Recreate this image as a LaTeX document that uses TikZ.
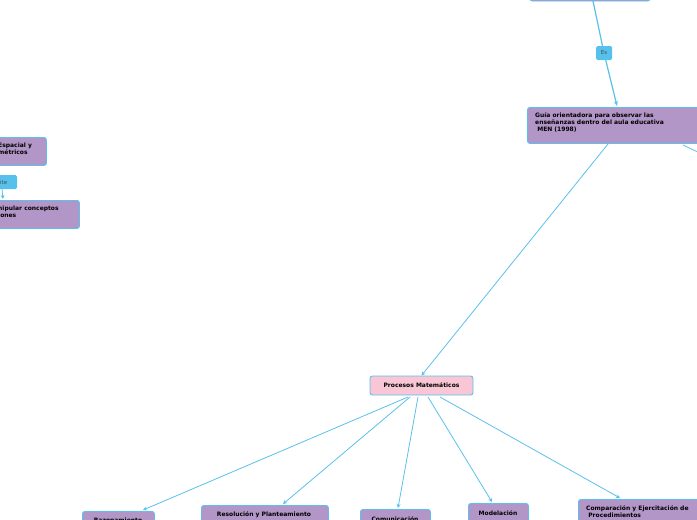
\documentclass[tikz,border=0pt]{standalone}
\usepackage{fontspec}
\setmainfont{DejaVu Sans}
\usetikzlibrary{arrows.meta}
\definecolor{box}{HTML}{B296C7}
\definecolor{edge}{HTML}{5BC0EB}
\definecolor{pinkb}{HTML}{F8C6D4}
\definecolor{lab}{HTML}{56C1EC}
\tikzset{
 x=1pt,y=-1pt,
 bx/.style={draw=edge,line width=0.9pt,fill=box,rounded corners=2.5pt},
 ft/.style={font=\fontsize{6}{7.2}\selectfont\bfseries},
 txt/.style={ft,align=left,inner sep=0,anchor=north west},
 conn/.style={draw=edge,line width=0.8pt,-{Stealth[length=4pt,width=4pt]}},
 lb/.style={fill=lab,rounded corners=1.5pt,font=\fontsize{5.5}{6.5}\selectfont,text=black!70,inner sep=0,minimum width=16,minimum height=14}
}
\begin{document}
\begin{tikzpicture}
\useasboundingbox (0,0) rectangle (697,520);
\clip (0,0) rectangle (697,520);
% top
\draw[bx] (530,-20) rectangle (650,1);
\coordinate (topb) at (593,1);
\node[lb] (es) at (604,53) {Es};
\node[bx,minimum width=175,minimum height=36,anchor=north west] (guia) at (527,107) {};
\node[txt] at (535,112) {Guía orientadora para observar las\\enseñanzas dentro del aula educativa\\\ MEN (1998)};
\draw[draw=lab,line width=1.2pt] (topb) -- (es);
\draw[draw=lab,line width=1.2pt,-{Stealth[length=5pt,width=4pt]}] (es) -- (617,106);
\draw[edge,line width=0.8pt] (683,145) -- (700,153);
% left
\node[bx,minimum width=96,minimum height=28,anchor=north west] (esp) at (-50,137) {};
\node[txt] at (-2,143) {Espacial y\\métricos};
\node[lb,minimum width=30] (nite) at (2,182) {nite};
\node[bx,minimum width=159,minimum height=28,anchor=north west] (man) at (-80,200) {};
\node[txt] at (-2,206) {nipular conceptos\\iones};
\draw[conn] (nite.south) -- (3,199);
% procesos
\node[draw=edge,line width=0.9pt,fill=pinkb,rounded corners=2.5pt,minimum width=103,minimum height=19,ft] (proc) at (421.5,385.5) {Procesos Matemáticos};
\draw[conn] (608,144) -- (proc.north);
% bottom
\node[bx,minimum width=72,minimum height=30,anchor=north west] (raz) at (82,511) {};
\node[ft] at (118,520) {Razonamiento};
\node[bx,minimum width=127,minimum height=30,anchor=north west] (res) at (201,505) {};
\node[ft] at (264,515) {Resolución y Planteamiento};
\node[bx,minimum width=70,minimum height=30,anchor=north west] (com) at (360,509) {};
\node[ft] at (395,519) {Comunicación};
\node[bx,minimum width=60,minimum height=30,anchor=north west] (mod) at (468,503) {};
\node[ft] at (498,513) {Modelación};
\node[bx,minimum width=130,minimum height=30,anchor=north west] (cmp) at (578,499) {};
\node[txt] at (586,505) {Comparación y Ejercitación de\\\ Procedimientos};
\draw[conn] (408,397) -- (143,510);
\draw[conn] (410,397) -- (283,504);
\draw[conn] (418,397) -- (398,508);
\draw[conn] (428,397) -- (492,502);
\draw[conn] (440,397) -- (620,498);
\end{tikzpicture}
\end{document}
